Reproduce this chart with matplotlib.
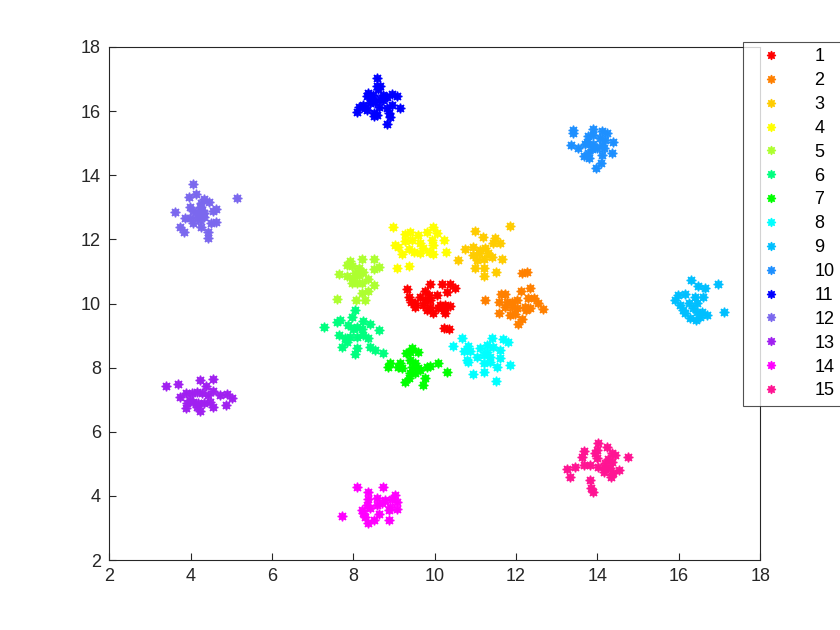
import matplotlib
matplotlib.use("Agg")
import matplotlib.pyplot as plt

labels = [str(i) for i in range(1, 16)]
colors = ["#FF0000", "#FF8000", "#FFCC00", "#FFFF00", "#ADFF2F", "#00FF7F", "#00FF00",
          "#00FFFF", "#00BFFF", "#1E90FF", "#0000FF", "#7B68EE", "#A020F0", "#FF00FF", "#FF1493"]

x1 = [9.33, 9.89, 10.18, 10.38, 10.50, 10.30, 9.77, 9.85, 10.05, 9.64, 9.38, 9.42, 9.52, 9.77, 9.89,
      9.72, 9.89, 9.96, 10.14, 10.26, 10.38, 10.22, 10.26, 10.22, 10.34, 9.52, 9.81, 10.09]
y1 = [10.44, 10.60, 10.61, 10.61, 10.47, 10.37, 10.40, 10.27, 10.27, 10.21, 10.19, 10.06, 9.90, 10.11, 10.11,
      9.95, 9.90, 9.69, 9.95, 9.95, 9.92, 9.80, 9.69, 9.23, 9.20, 10.01, 9.80, 9.85]

x2 = [12.14, 12.27, 11.24, 11.63, 11.73, 12.12, 12.35, 11.57, 11.77, 11.90, 12.02, 12.30, 12.43, 12.53,
      12.65, 11.59, 11.73, 11.90, 12.02, 12.22, 12.35, 11.86, 11.98, 12.14, 12.04, 12.25]
y2 = [10.96, 10.97, 10.11, 10.30, 10.30, 10.39, 10.47, 10.06, 10.06, 10.06, 10.11, 10.16, 10.16, 10.02,
      9.82, 9.69, 9.90, 9.90, 9.85, 9.90, 9.85, 9.64, 9.67, 9.51, 9.36, 9.80]

x3 = [11.86, 10.98, 11.18, 11.49, 11.61, 10.75, 10.95, 11.12, 11.24, 11.44, 10.58, 10.95, 11.08, 11.22,
      11.41, 11.65, 11.00, 11.20, 11.51, 11.20, 11.32, 11.04]
y3 = [12.42, 12.27, 12.08, 12.03, 11.90, 11.69, 11.75, 11.67, 11.72, 11.90, 11.36, 11.51, 11.57, 11.38,
      11.46, 11.38, 11.10, 11.10, 10.97, 10.86, 11.59, 11.36]

x4 = [8.97, 9.27, 9.40, 9.58, 9.81, 9.95, 10.05, 9.03, 9.11, 9.27, 9.44, 9.64, 9.93, 10.24, 9.97,
      9.36, 9.19, 9.48, 9.64, 9.85, 9.96, 10.28, 9.07, 9.37, 9.72]
y4 = [12.38, 12.17, 12.22, 12.14, 12.22, 12.40, 12.21, 11.83, 11.77, 11.96, 11.98, 11.88, 11.98, 11.98, 11.83,
      11.69, 11.54, 11.62, 11.57, 11.62, 11.54, 11.60, 11.10, 11.17, 11.72]

x5 = [7.91, 8.21, 8.50, 7.84, 7.97, 8.13, 8.25, 8.50, 8.62, 7.66, 7.84, 8.00, 8.15, 8.37, 7.97, 8.09,
      8.21, 8.50, 8.21, 8.35, 7.61, 8.06, 8.28, 8.05]
y5 = [11.33, 11.38, 11.39, 11.20, 11.17, 11.10, 10.99, 11.07, 11.15, 10.92, 10.86, 10.78, 10.89, 10.75,
      10.63, 10.63, 10.63, 10.58, 10.32, 10.39, 10.13, 10.11, 10.11, 10.94]

x6 = [8.03, 7.28, 7.68, 7.60, 7.97, 8.25, 8.40, 7.86, 7.99, 8.09, 8.21, 8.62, 7.66, 7.80, 7.92, 8.09,
      8.25, 8.35, 7.84, 7.72, 8.10, 8.05, 8.42, 8.54, 8.72]
y6 = [9.80, 9.26, 9.49, 9.43, 9.57, 9.46, 9.36, 9.33, 9.20, 9.28, 9.20, 9.17, 9.02, 8.92, 8.95, 8.97,
      9.02, 8.92, 8.81, 8.65, 8.60, 8.42, 8.64, 8.55, 8.45]

x7 = [9.44, 9.40, 9.58, 9.30, 8.89, 8.84, 9.15, 9.11, 9.19, 9.40, 9.52, 9.44, 9.60, 9.81, 9.89, 10.07,
      10.30, 9.40, 9.52, 9.36, 9.27, 9.77, 9.71, 9.64]
y7 = [8.60, 8.50, 8.50, 8.45, 8.15, 8.03, 8.13, 8.03, 7.98, 8.24, 8.13, 8.03, 7.98, 8.03, 8.05, 8.15,
      7.87, 7.82, 7.82, 7.67, 7.54, 7.67, 7.46, 7.93]

x8 = [10.67, 11.41, 11.69, 11.79, 10.44, 10.83, 10.87, 10.71, 11.12, 11.28, 11.44, 11.61, 11.04, 11.20,
      11.36, 11.61, 10.79, 10.83, 11.20, 11.36, 11.53, 11.86, 10.94, 11.20, 11.51, 11.28]
y8 = [8.91, 8.91, 8.89, 8.81, 8.67, 8.67, 8.53, 8.52, 8.60, 8.70, 8.65, 8.55, 8.34, 8.39,
      8.34, 8.29, 8.24, 8.18, 8.15, 8.18, 8.03, 8.08, 7.80, 7.87, 7.58, 8.50]

x9 = [16.30, 16.48, 16.65, 16.97, 15.99, 16.15, 15.91, 16.03, 16.40, 16.60, 16.44, 16.24, 16.11, 16.15,
      16.28, 16.43, 16.44, 16.57, 16.69, 16.52, 17.12, 16.36]
y9 = [10.73, 10.55, 10.47, 10.61, 10.27, 10.30, 10.11, 9.95, 10.21, 10.21, 10.01, 10.01, 9.80, 9.69,
      9.54, 9.49, 9.74, 9.74, 9.64, 9.59, 9.73, 9.85]

x10 = [13.39, 13.41, 13.88, 14.11, 14.23, 13.78, 13.90, 13.74, 14.07, 14.19, 14.39, 13.70, 13.90, 14.11,
       13.35, 13.53, 13.86, 13.99, 14.15, 13.78, 13.66, 13.80, 14.12, 14.35, 14.08, 13.96]
y10 = [15.41, 15.31, 15.44, 15.38, 15.31, 15.22, 15.26, 15.05, 15.15, 15.10, 15.05, 14.98, 14.98, 14.94,
       14.94, 14.84, 14.81, 14.84, 14.84, 14.68, 14.60, 14.53, 14.63, 14.68, 14.37, 14.22]

x11 = [8.58, 8.58, 8.66, 8.61, 8.37, 8.33, 8.42, 8.49, 8.73, 8.83, 8.95, 9.07, 8.66, 8.54, 8.42, 8.25,
       8.13, 8.09, 8.29, 8.33, 8.50, 8.58, 8.50, 8.62, 8.83, 8.95, 8.87, 8.91, 9.14, 8.83, 8.74, 8.46]
y11 = [17.02, 16.78, 16.78, 16.68, 16.55, 16.47, 16.43, 16.50, 16.50, 16.45, 16.52, 16.47, 16.37, 16.29,
       16.24, 16.19, 16.14, 15.98, 16.09, 16.03, 15.93, 15.88, 15.84, 16.14, 16.09, 16.19, 15.93, 15.82,
       16.09, 15.60, 16.36, 16.36]

x12 = [4.05, 3.97, 4.13, 4.34, 4.46, 4.26, 4.24, 3.99, 4.07, 4.19, 4.34, 4.56, 4.62, 3.62, 3.87, 3.99,
       4.07, 4.24, 4.25, 4.50, 4.63, 3.74, 3.83, 4.42, 4.44, 5.13, 4.17, 4.28, 4.32]
y12 = [13.72, 13.31, 13.41, 13.25, 13.16, 13.12, 13.00, 13.00, 12.88, 12.81, 12.81, 12.88, 12.95, 12.84,
       12.68, 12.66, 12.50, 12.60, 12.38, 12.52, 12.55, 12.38, 12.22, 12.22, 12.05, 13.28, 12.71, 12.92, 12.71]

x13 = [3.40, 3.68, 4.24, 4.54, 4.38, 4.54, 3.74, 3.88, 4.03, 4.15, 4.28, 4.44, 3.99, 3.91, 4.07, 4.19,
       4.32, 4.48, 4.54, 3.89, 4.15, 4.24, 4.73, 4.89, 5.01, 4.87]
y13 = [7.43, 7.48, 7.61, 7.65, 7.43, 7.27, 7.07, 7.22, 7.22, 7.25, 7.22, 7.15, 6.99, 6.89, 6.94, 6.89,
       6.89, 6.94, 6.78, 6.73, 6.78, 6.66, 7.15, 7.18, 7.04, 6.83]

x14 = [8.10, 8.37, 8.74, 8.37, 8.58, 8.78, 8.95, 9.03, 9.07, 8.33, 8.58, 8.70, 8.21, 8.25, 8.87, 8.62,
       8.29, 8.51, 8.87, 8.37, 7.72, 9.07, 8.42, 8.91]
y14 = [4.27, 4.13, 4.27, 3.90, 3.94, 3.87, 3.90, 4.03, 3.82, 3.72, 3.72, 3.77, 3.56, 3.46, 3.56, 3.43,
       3.35, 3.25, 3.25, 3.15, 3.38, 3.58, 3.61, 3.66]

x15 = [14.02, 13.99, 14.23, 13.66, 13.62, 13.94, 14.35, 14.43, 13.99, 14.27, 14.19, 14.35, 14.75, 13.66,
       13.82, 14.02, 14.19, 14.31, 14.52, 13.26, 13.45, 13.33, 14.15, 14.34, 13.82, 13.85, 13.88, 14.39]
y15 = [5.64, 5.43, 5.51, 5.40, 5.22, 5.33, 5.33, 5.27, 5.17, 5.15, 5.02, 5.07, 5.22, 4.96,
       4.96, 4.91, 4.86, 4.86, 4.81, 4.84, 4.89, 4.58, 4.75, 4.60, 4.49, 4.24, 4.11, 4.70]

xs = [x1, x2, x3, x4, x5, x6, x7, x8, x9, x10, x11, x12, x13, x14, x15]
ys = [y1, y2, y3, y4, y5, y6, y7, y8, y9, y10, y11, y12, y13, y14, y15]

xticks = [2, 4, 6, 8, 10, 12, 14, 16, 18]
yticks = [2, 4, 6, 8, 10, 12, 14, 16, 18]

plt.rcParams['font.family'] = ['Arial', 'Liberation Sans', 'DejaVu Sans']
fig = plt.figure(figsize=(8.4, 6.3), dpi=100)
ax = fig.add_axes([0.13, 0.1111, 0.775, 0.8143])

marker = (8, 1, 0)
for x, y, c, lab in zip(xs, ys, colors, labels):
    ax.plot(x, y, linestyle='none', marker=marker, markersize=7, color=c,
            markeredgecolor=c, markeredgewidth=0.9, label=lab)

ax.set_xlim(2, 18)
ax.set_ylim(2, 18)
ax.set_xticks(xticks)
ax.set_yticks(yticks)
dark = '#262626'
for s in ax.spines.values():
    s.set_color(dark)
    s.set_linewidth(0.8)
ax.tick_params(direction='in', length=5, width=0.8, colors=dark, labelsize=13,
               top=False, right=False, pad=6)

leg = fig.legend(loc='upper left', bbox_to_anchor=(743 / 840, 1 - 42 / 630),
                 borderaxespad=0.0,
                 frameon=True, fancybox=False, edgecolor=dark, fontsize=13,
                 handlelength=2.4, handletextpad=1.2, labelspacing=0.38,
                 borderpad=0.35, markerscale=0.9, numpoints=1)
leg.get_frame().set_linewidth(0.8)

fig.savefig('out.png', dpi=100, facecolor='white')
